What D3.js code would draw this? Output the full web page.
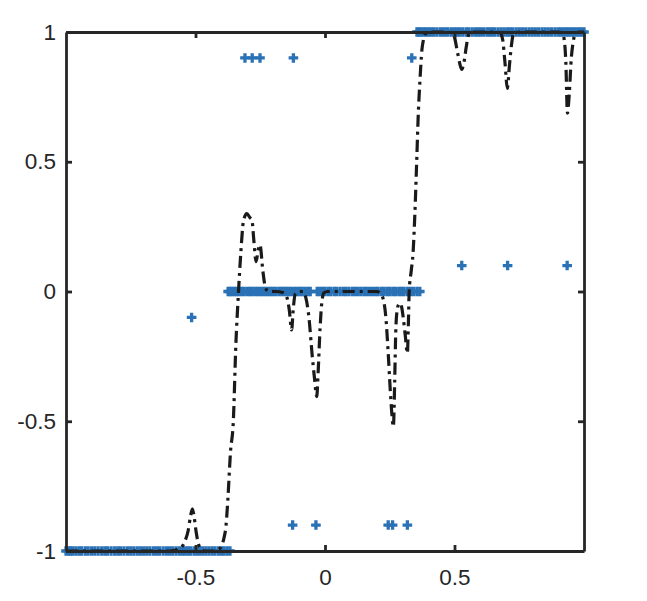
<!DOCTYPE html>
<html>
<head>
<meta charset="utf-8">
<script src="https://cdn.jsdelivr.net/npm/d3@7"></script>
<style>
  html, body { margin: 0; padding: 0; background: #fff; }
  svg { display: block; }
</style>
</head>
<body>
<script>
// ---------- data ----------
const xTicks = [-0.5, 0, 0.5];
const yTicks = [-1, -0.5, 0, 0.5, 1];
const xTickLabels = ["-0.5", "0", "0.5"];
const yTickLabels = ["-1", "-0.5", "0", "0.5", "1"];

// samples with label -1
const lowX = [-1.0,-0.99,-0.983,-0.974,-0.962,-0.95,-0.94,-0.926,-0.915,-0.902,-0.889,-0.876,-0.862,-0.85,-0.84,-0.826,-0.812,-0.8,-0.789,-0.776,-0.762,-0.75,-0.738,-0.725,-0.713,-0.7,-0.688,-0.676,-0.662,-0.65,-0.639,-0.625,-0.612,-0.6,-0.588,-0.575,-0.562,-0.55,-0.541,-0.53,-0.52,-0.506,-0.495,-0.484,-0.472,-0.46,-0.448,-0.436,-0.425,-0.412,-0.4,-0.39,-0.378,-0.367];
// samples with label 0
const midX = [-0.374,-0.367,-0.359,-0.35,-0.342,-0.333,-0.322,-0.312,-0.3,-0.29,-0.281,-0.27,-0.26,-0.25,-0.24,-0.23,-0.22,-0.21,-0.2,-0.19,-0.178,-0.168,-0.158,-0.15,-0.14,-0.13,-0.118,-0.108,-0.098,-0.088,-0.077,-0.066,-0.057,-0.03,-0.02,-0.01,0.0,0.012,0.022,0.035,0.045,0.058,0.07,0.08,0.092,0.105,0.115,0.126,0.138,0.15,0.16,0.172,0.184,0.195,0.205,0.218,0.228,0.24,0.25,0.262,0.272,0.285,0.295,0.305,0.318,0.33,0.342,0.355,0.366];
// samples with label 1
const highX = [0.355,0.362,0.37,0.38,0.39,0.4,0.41,0.42,0.432,0.445,0.455,0.465,0.475,0.488,0.5,0.51,0.52,0.532,0.545,0.555,0.568,0.58,0.59,0.6,0.612,0.625,0.635,0.645,0.655,0.668,0.68,0.692,0.705,0.715,0.725,0.738,0.75,0.762,0.775,0.788,0.8,0.812,0.825,0.838,0.85,0.862,0.875,0.888,0.9,0.91,0.92,0.93,0.94,0.95,0.96,0.97,0.98,0.99,1.0];
// noisy samples
const outX = [-0.309,-0.281,-0.251,-0.122,0.335,0.528,0.705,0.935,-0.515,-0.125,-0.035,0.244,0.261,0.318];
const outY = [0.9,0.9,0.9,0.9,0.9,0.1,0.1,0.1,-0.1,-0.9,-0.9,-0.9,-0.9,-0.9];

// fitted curve
const curveX = [-1.0,-0.8,-0.6,-0.56,-0.54,-0.528,-0.52,-0.512,-0.505,-0.497,-0.488,-0.478,-0.46,-0.43,-0.41,-0.4,-0.39,-0.382,-0.375,-0.365,-0.354,-0.344,-0.335,-0.325,-0.315,-0.302,-0.29,-0.282,-0.275,-0.266,-0.258,-0.251,-0.24,-0.23,-0.219,-0.19,-0.16,-0.148,-0.138,-0.129,-0.122,-0.115,-0.1,-0.085,-0.075,-0.062,-0.05,-0.04,-0.032,-0.026,-0.019,-0.012,-0.004,0.01,0.1,0.2,0.212,0.225,0.235,0.244,0.252,0.258,0.264,0.269,0.273,0.277,0.284,0.29,0.296,0.302,0.31,0.318,0.322,0.325,0.333,0.34,0.347,0.354,0.36,0.367,0.374,0.38,0.39,0.405,0.45,0.489,0.5,0.51,0.52,0.528,0.536,0.545,0.553,0.565,0.6,0.676,0.686,0.695,0.704,0.712,0.72,0.727,0.75,0.9,0.914,0.922,0.93,0.936,0.943,0.951,0.958,0.965,0.98,1.0];
const curveY = [-1,-1,-1,-0.99,-0.96,-0.92,-0.87,-0.838,-0.87,-0.93,-0.975,-0.995,-1,-1,-0.995,-0.98,-0.95,-0.9,-0.8,-0.62,-0.5,-0.2,-0.02,0.15,0.27,0.3,0.285,0.275,0.2,0.115,0.16,0.18,0.08,0.015,0.0,0.0,-0.005,-0.02,-0.07,-0.148,-0.06,-0.01,0.0,0.0,-0.02,-0.1,-0.24,-0.34,-0.405,-0.3,-0.14,-0.04,-0.005,0.0,0.0,0.0,-0.005,-0.03,-0.1,-0.237,-0.38,-0.47,-0.521,-0.35,-0.16,-0.084,-0.05,-0.045,-0.06,-0.1,-0.17,-0.238,-0.12,0.0,0.08,0.148,0.3,0.5,0.68,0.82,0.93,0.969,0.995,1,1,0.998,0.98,0.93,0.88,0.856,0.88,0.94,0.985,1,1,0.998,0.97,0.88,0.783,0.87,0.95,0.99,1,1,0.998,0.98,0.88,0.687,0.76,0.9,0.96,0.99,1,1];

// ---------- layout ----------
const W = 647, H = 601;
const L = 66, R = 584, T = 32, B = 551;
const axisColor = "#262626";
const markColor = "#2a72b5";

const svg = d3.select("body").append("svg").attr("width", W).attr("height", H);

const x = d3.scaleLinear().domain([-1, 1]).range([L, R]);
const y = d3.scaleLinear().domain([-1, 1]).range([B, T]);

// markers
const pts = [];
lowX.forEach(v => pts.push([v, -1]));
midX.forEach(v => pts.push([v, 0]));
highX.forEach(v => pts.push([v, 1]));
outX.forEach((v, i) => pts.push([v, outY[i]]));

const ms = 4.8;
svg.append("g").selectAll("path").data(pts).enter().append("path")
  .attr("d", d => {
    const cx = x(d[0]), cy = y(d[1]);
    return `M${cx - ms},${cy}H${cx + ms}M${cx},${cy - ms}V${cy + ms}`;
  })
  .attr("stroke", markColor).attr("stroke-width", 3.3).attr("fill", "none");

// curve
const line = d3.line().x(d => x(d[0])).y(d => y(d[1])).curve(d3.curveMonotoneX);
svg.append("path")
  .datum(curveX.map((v, i) => [v, curveY[i]]))
  .attr("d", line)
  .attr("fill", "none")
  .attr("stroke", "#1a1a1a")
  .attr("stroke-width", 3.2)
  .attr("stroke-dasharray", "12,5,3,5");

// axes (box with inward ticks)
const fontFam = "'Liberation Sans', Arial, Helvetica, sans-serif";
const tl = 6;
const gx = svg.append("g").attr("transform", `translate(0,${B})`)
  .call(d3.axisBottom(x).tickValues(xTicks).tickSizeInner(-tl).tickSizeOuter(0).tickPadding(18)
    .tickFormat((d, i) => xTickLabels[i]));
const gxt = svg.append("g").attr("transform", `translate(0,${T})`)
  .call(d3.axisTop(x).tickValues(xTicks).tickSizeInner(-tl).tickSizeOuter(0).tickFormat(""));
const gy = svg.append("g").attr("transform", `translate(${L},0)`)
  .call(d3.axisLeft(y).tickValues(yTicks).tickSizeInner(-tl).tickSizeOuter(0).tickPadding(10)
    .tickFormat((d, i) => yTickLabels[i]));
const gyr = svg.append("g").attr("transform", `translate(${R},0)`)
  .call(d3.axisRight(y).tickValues(yTicks).tickSizeInner(-tl).tickSizeOuter(0).tickFormat(""));

[gx, gxt, gy, gyr].forEach(g => {
  g.select(".domain").attr("stroke", axisColor).attr("stroke-width", 2.8);
  g.selectAll(".tick line").attr("stroke", axisColor).attr("stroke-width", 2.8);
  g.selectAll(".tick text").attr("fill", axisColor).style("font-family", fontFam).style("font-size", "22.5px");
});
</script>
</body>
</html>
